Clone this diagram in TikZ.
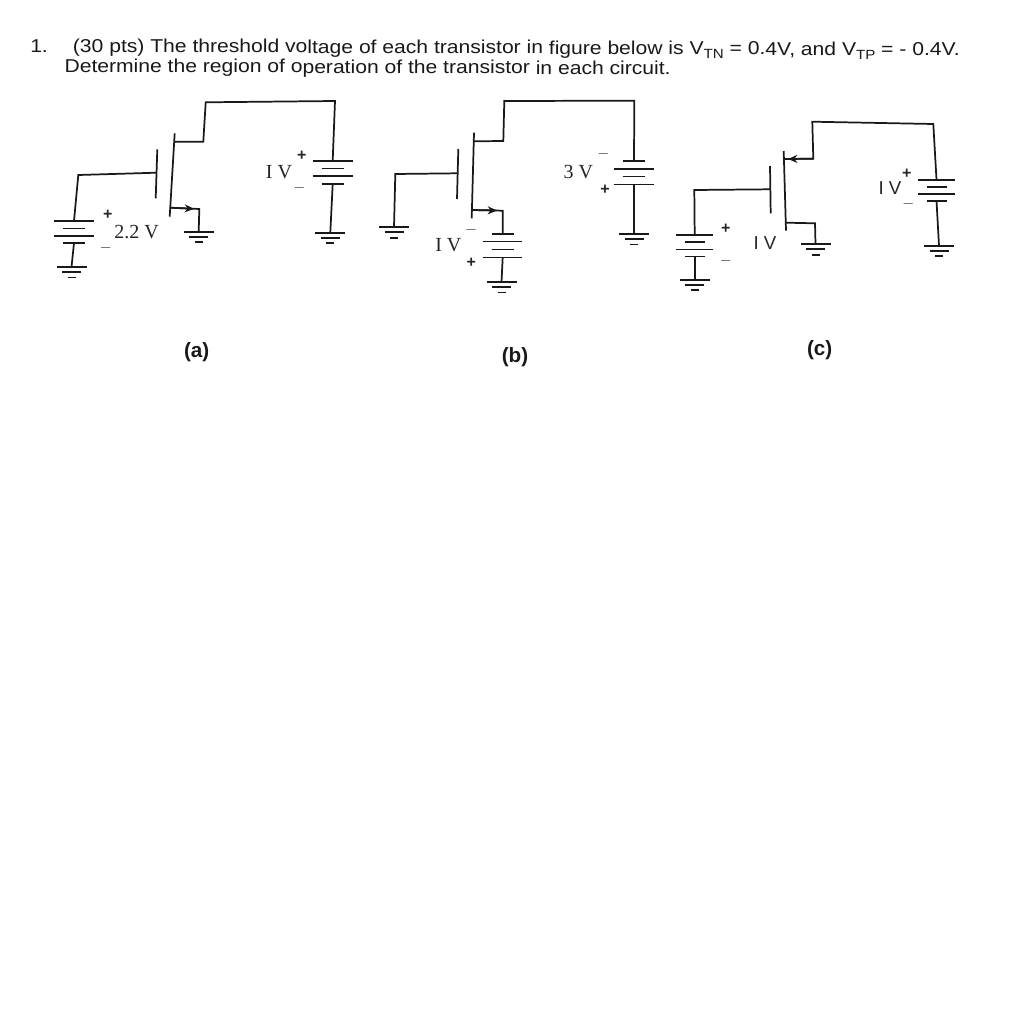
\documentclass[tikz,border=0pt]{standalone}
\usepackage{fontspec}
\setmainfont{Liberation Sans}
\newfontfamily\serifcct{Liberation Serif}
\usetikzlibrary{arrows.meta}
\tikzset{
  x=0.75pt,y=-0.75pt,
  wire/.style={line width=1.3pt,line join=miter,color=black!90},
  plate/.style={line width=1.3pt,color=black!90},
  flowtip/.style={line width=1.3pt,color=black!90,-{Stealth[length=7pt,width=6pt]}},
  body/.style={inner sep=0pt,anchor=base west,rotate=-0.25,font=\fontsize{14}{16}\selectfont,color=black!90},
  captxt/.style={inner sep=0pt,font=\bfseries\fontsize{15.5}{17}\selectfont,color=black!90},
  val/.style={inner sep=0pt,font=\serifcct\fontsize{15}{17}\selectfont,color=black!85},
  valsf/.style={inner sep=0pt,font=\fontsize{14}{16}\selectfont,color=black!85},
  sign/.style={inner sep=0pt,font=\bfseries\fontsize{12}{13}\selectfont,color=black!85}
}
\newcommand{\wider}[1]{\scalebox{1.13}[1]{#1}}
\newcommand{\subsc}[1]{\raisebox{-0.22em}{\fontsize{10}{11}\selectfont #1}}
\newcommand{\gndsym}[3]{%
  \coordinate (#1) at (#2,#3);
  \draw[plate] (#2-15,#3)--(#2+15,#3);
  \draw[plate] (#2-9.5,#3+5)--(#2+9.5,#3+5);
  \draw[plate] (#2-4,#3+10.5)--(#2+4,#3+10.5);
}
% name, x, top y, pitch, half long, half short
\newcommand{\batlf}[6]{%
  \coordinate (#1t) at (#2,#3);
  \coordinate (#1b) at (#2,#3+3*#4);
  \draw[plate] (#2-#5,#3)--(#2+#5,#3);
  \draw[plate] (#2-#6,#3+#4)--(#2+#6,#3+#4);
  \draw[plate] (#2-#5,#3+2*#4)--(#2+#5,#3+2*#4);
  \draw[plate] (#2-#6,#3+3*#4)--(#2+#6,#3+3*#4);
}
\newcommand{\batsf}[6]{%
  \coordinate (#1t) at (#2,#3);
  \coordinate (#1b) at (#2,#3+3*#4);
  \draw[plate] (#2-#6,#3)--(#2+#6,#3);
  \draw[plate] (#2-#5,#3+#4)--(#2+#5,#3+#4);
  \draw[plate] (#2-#6,#3+2*#4)--(#2+#6,#3+2*#4);
  \draw[plate] (#2-#5,#3+3*#4)--(#2+#5,#3+3*#4);
}
\begin{document}
\begin{tikzpicture}
\useasboundingbox (0,0) rectangle (1016,1024);
\fill[white] (0,0) rectangle (1016,1024);

% question text
\node[body] (qnum) at (30,52) {\wider{1.}};
\node[body] (qone) at (72.7,52) {\wider{(30 pts) The threshold voltage of each transistor in figure below is V\subsc{TN} = 0.4V, and V\subsc{TP} = - 0.4V.}};
\node[body] (qtwo) at (64.3,72) {\wider{Determine the region of operation of the transistor in each circuit.}};

% ---------- circuit (a)
\draw[plate] (157.3,149.3)--(155.7,198.3);
\draw[plate] (174.7,133.3)--(169.7,216.7);
\batlf{aL}{74}{221}{7.4}{20}{11}
\gndsym{aLg}{71.5}{267}
\coordinate (aG) at (156.5,172.7);
\draw[wire] (aG)--(78.3,175)--(aLt);
\draw[wire] (aLb)--(aLg);
\batlf{aR}{332.7}{160.7}{7.8}{20}{11}
\gndsym{aRg}{330.3}{232.7}
\coordinate (aD) at (174.3,141.7);
\draw[wire] (aD)--(203.3,141.7)--(205.7,102.3)--(335,101)--(aRt);
\draw[wire] (aRb)--(aRg);
\gndsym{aSg}{198.7}{231.7}
\coordinate (aS) at (170,207.7);
\coordinate (aSk) at (199.3,209);
\draw[wire] (aS)--(aSk)--(aSg);
\draw[flowtip] (aS)--(194,208.8);
\node[sign] (aLp) at (107.7,215) {+};
\node[val] (aLv) at (136.7,231.7) {2.2 V};
\node[sign] (aLm) at (105.7,247) {\_};
\node[val] (aRv) at (279,172.5) {I V};
\node[sign] (aRp) at (301.7,156) {+};
\node[sign] (aRm) at (299.3,187.5) {\_};
\node[captxt] (capa) at (196.7,352) {(a)};

% ---------- circuit (b)
\draw[plate] (458.3,149)--(457,199);
\draw[plate] (474,132.7)--(471.7,218.3);
\gndsym{bGg}{394}{227.3}
\coordinate (bG) at (457.3,173.3);
\draw[wire] (bG)--(395.3,174)--(bGg);
\batsf{bR}{634}{161}{7.8}{19.7}{11}
\gndsym{bRg}{634}{234}
\coordinate (bD) at (473.7,141.3);
\draw[wire] (bD)--(503.3,141)--(504.3,101)--(634.3,100.7)--(bRt);
\draw[wire] (bRb)--(bRg);
\batsf{bS}{502.7}{233.7}{7.9}{19.7}{11}
\gndsym{bSg}{501.5}{282}
\coordinate (bS0) at (472,210);
\coordinate (bSk) at (502.7,210.7);
\draw[wire] (bS0)--(bSk)--(bSt);
\draw[flowtip] (bS0)--(497,210.5);
\draw[wire] (bSb)--(bSg);
\node[val] (bRv) at (578.3,172.3) {3 V};
\node[sign] (bRm) at (603.3,153) {\_};
\node[sign] (bRp) at (605,190) {+};
\node[val] (bSv) at (448.3,245) {I V};
\node[sign] (bSm) at (471,229) {\_};
\node[sign] (bSp) at (471.3,263.3) {+};
\node[captxt] (capb) at (515,357) {(b)};

% ---------- circuit (c)
\draw[plate] (770,166)--(770.7,213.3);
\draw[plate] (783.7,151)--(786,230.7);
\batlf{cL}{694.7}{235}{7.2}{18.3}{10}
\gndsym{cLg}{694.7}{279.7}
\coordinate (cG) at (770,189.3);
\draw[wire] (cG)--(694.3,190)--(cLt);
\draw[wire] (cLb)--(cLg);
\batlf{cR}{936.5}{179.7}{7}{18.3}{10}
\gndsym{cRg}{939}{245.7}
\coordinate (cS0) at (784,159);
\coordinate (cSk) at (813.3,158.7);
\draw[wire] (cS0)--(cSk)--(812.3,121.7)--(933.3,124)--(cRt);
\draw[flowtip] (cSk)--(788,159);
\draw[wire] (cRb)--(cRg);
\gndsym{cDg}{815.5}{244.3}
\coordinate (cD) at (786,222.7);
\draw[wire] (cD)--(815,223.3)--(cDg);
\node[valsf] (cLv) at (765,242.7) {I V};
\node[sign] (cLp) at (725.7,229.3) {+};
\node[sign] (cLm) at (725.7,260) {\_};
\node[valsf] (cRv) at (890,188.3) {I V};
\node[sign] (cRp) at (906.7,174.3) {+};
\node[sign] (cRm) at (908.3,203.5) {\_};
\node[captxt] (capc) at (819.7,350) {(c)};
\end{tikzpicture}
\end{document}
